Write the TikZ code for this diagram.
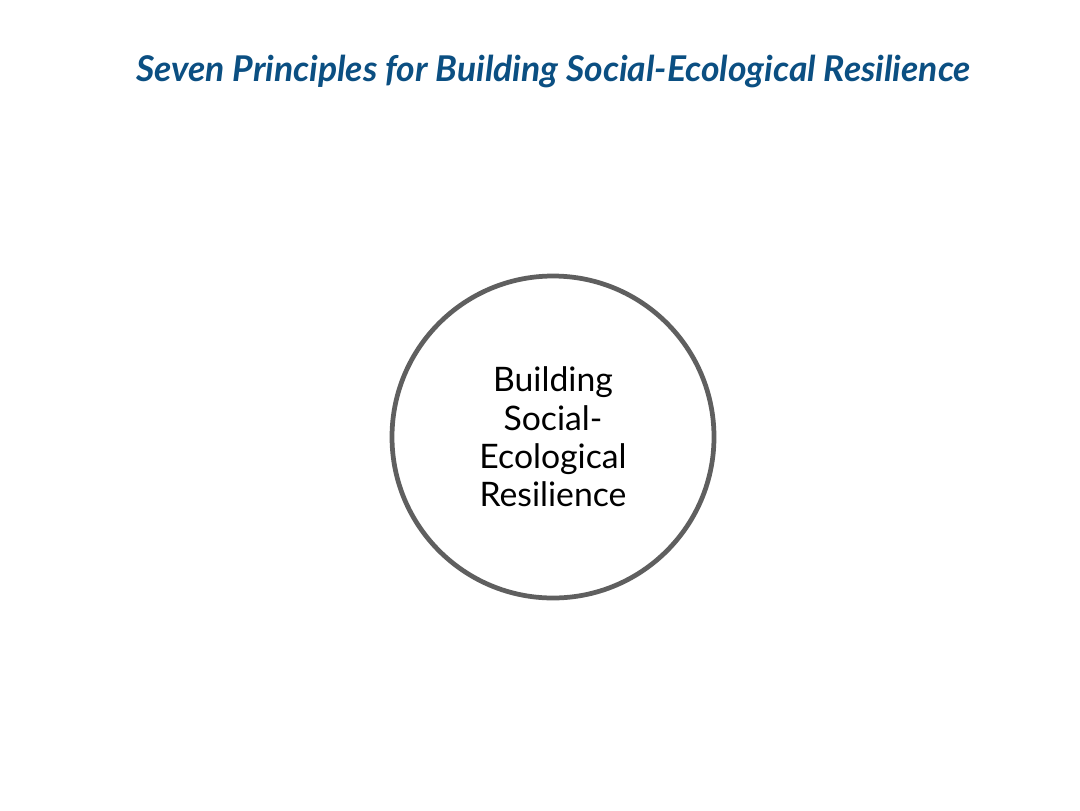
\documentclass[tikz,border=0pt]{standalone}
\usepackage{fontspec}
\setmainfont{Lato}
\definecolor{titleblue}{HTML}{0B4F82}
\definecolor{ringgray}{HTML}{5F5F5F}

\begin{document}
\begin{tikzpicture}[thick]
    % Canvas
    \useasboundingbox (0,0) rectangle (10.8,8.1);

    % Define coordinates
    \coordinate (T) at (5.535,7.29);
    \coordinate (C) at (5.53,3.73);

    % Title
    \node[anchor=base, text=titleblue, font=\fontsize{10.1}{12}\selectfont\bfseries\itshape] (title) at (T)
        {Seven Principles for Building Social-Ecological Resilience};

    % Central circle
    \node[circle, draw=ringgray, line width=1.35pt, minimum size=3.22cm, inner sep=0pt] (core) at (C) {};

    % Label inside circle
    \node[align=center, font=\fontsize{9.6}{10.9}\selectfont] (corelabel) at (core.center)
        {Building\\Social-\\Ecological\\Resilience};
\end{tikzpicture}
\end{document}
